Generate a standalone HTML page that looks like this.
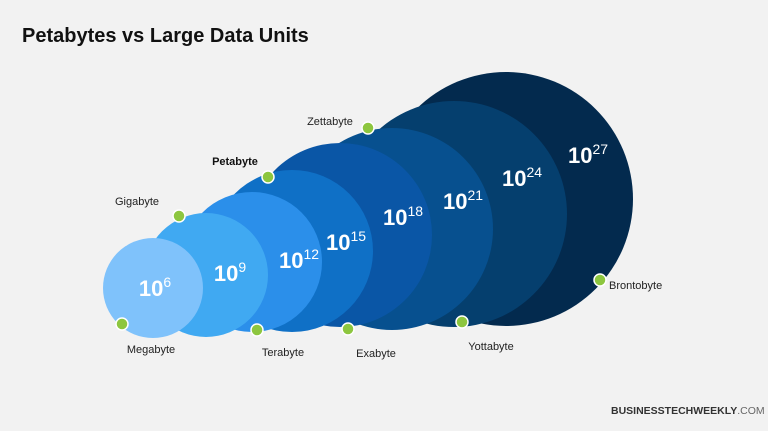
<!DOCTYPE html>
<html><head><meta charset="utf-8"><style>
body{margin:0;background:#f2f2f2;}
svg{display:block;font-family:"Liberation Sans",sans-serif;}
</style></head><body>
<svg width="768" height="431" viewBox="0 0 768 431" xmlns="http://www.w3.org/2000/svg">
<rect width="768" height="431" fill="#f2f2f2"/>
<text x="22" y="42" font-size="20" font-weight="bold" fill="#111">Petabytes vs Large Data Units</text>
<g>
<circle cx="506" cy="199" r="127" fill="#032a4e"/>
<circle cx="454" cy="214" r="113" fill="#053f6e"/>
<circle cx="392" cy="229" r="101" fill="#07508f"/>
<circle cx="340" cy="235" r="92" fill="#0a56a6"/>
<circle cx="292" cy="251" r="81" fill="#0f70c6"/>
<circle cx="252" cy="262" r="70" fill="#2b8fea"/>
<circle cx="206" cy="275" r="62" fill="#40a9f2"/>
<circle cx="153" cy="288" r="50" fill="#7fc2fb"/>
</g>
<g fill="#fff" font-weight="bold" font-size="22" text-anchor="middle">
<text x="155" y="296">10<tspan font-size="14" font-weight="normal" dy="-9">6</tspan></text>
<text x="230" y="281">10<tspan font-size="14" font-weight="normal" dy="-9">9</tspan></text>
<text x="299" y="268">10<tspan font-size="14" font-weight="normal" dy="-9">12</tspan></text>
<text x="346" y="250">10<tspan font-size="14" font-weight="normal" dy="-9">15</tspan></text>
<text x="403" y="225">10<tspan font-size="14" font-weight="normal" dy="-9">18</tspan></text>
<text x="463" y="209">10<tspan font-size="14" font-weight="normal" dy="-9">21</tspan></text>
<text x="522" y="186">10<tspan font-size="14" font-weight="normal" dy="-9">24</tspan></text>
<text x="588" y="163">10<tspan font-size="14" font-weight="normal" dy="-9">27</tspan></text>
</g>
<g fill="#8dc63f" stroke="#fff" stroke-width="1.5">
<circle cx="122" cy="324" r="6"/>
<circle cx="179" cy="216" r="6"/>
<circle cx="268" cy="177" r="6"/>
<circle cx="257" cy="330" r="6"/>
<circle cx="348" cy="329" r="6"/>
<circle cx="368" cy="128" r="6"/>
<circle cx="462" cy="322" r="6"/>
<circle cx="600" cy="280" r="6"/>
</g>
<g font-size="11" fill="#222" text-anchor="middle">
<text x="151" y="353">Megabyte</text>
<text x="137" y="205">Gigabyte</text>
<text x="235" y="165" font-weight="bold" fill="#111">Petabyte</text>
<text x="283" y="356">Terabyte</text>
<text x="376" y="357">Exabyte</text>
<text x="330" y="125">Zettabyte</text>
<text x="491" y="350">Yottabyte</text>
<text x="609" y="289" text-anchor="start">Brontobyte</text>
</g>
<text x="611" y="414" font-size="10.5" font-weight="bold" fill="#333">BUSINESSTECHWEEKLY<tspan font-weight="normal" fill="#666">.COM</tspan></text>
</svg>
</body></html>
